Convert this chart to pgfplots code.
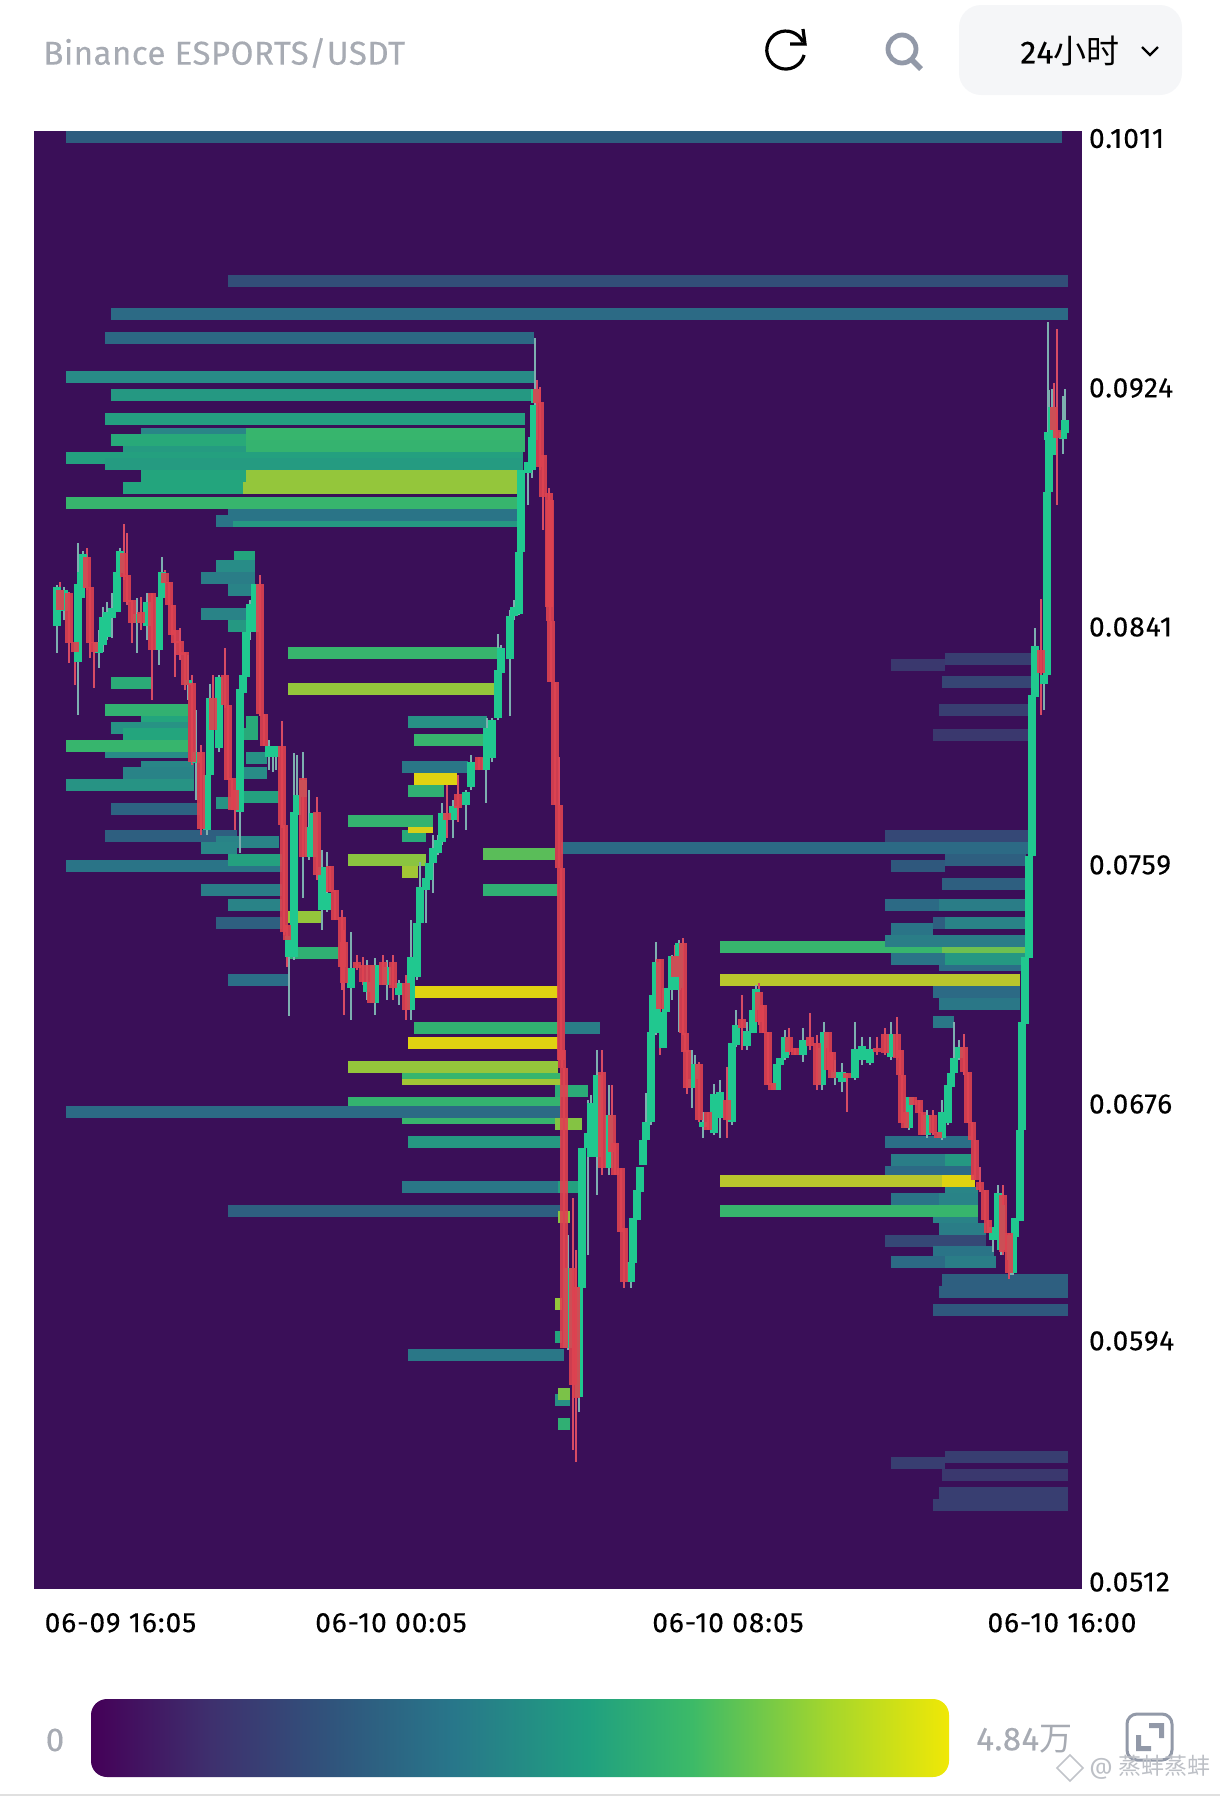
\documentclass[border=0pt]{standalone}
\usepackage{fontspec}
\setmainfont{Fira Sans}
\newfontfamily\ticksfont[LetterSpace=3.5,FakeBold=0.35]{Fira Sans}
\newfontfamily\headfont[LetterSpace=1.5,FakeBold=0.35]{Fira Sans}
\newfontfamily\cjk{Noto Sans CJK SC}
\usepackage{pgfplots}
\usepackage{pgfplotstable}
\pgfplotsset{compat=1.18}

\definecolor{bgpurple}{RGB}{58,15,88}
\definecolor{upgreen}{RGB}{32,200,143}
\definecolor{downred}{RGB}{222,66,80}
\definecolor{upwick}{RGB}{125,175,175}
\definecolor{downwick}{RGB}{215,75,100}
\definecolor{greytext}{RGB}{167,171,179}
\definecolor{icongrey}{RGB}{146,153,168}
\definecolor{btnfill}{RGB}{245,246,248}
\definecolor{cb0}{RGB}{69,0,88}
\definecolor{cb1}{RGB}{62,48,110}
\definecolor{cb2}{RGB}{48,84,124}
\definecolor{cb3}{RGB}{40,118,138}
\definecolor{cb4}{RGB}{32,160,128}
\definecolor{cb5}{RGB}{60,186,104}
\definecolor{cb6}{RGB}{165,214,44}
\definecolor{cb7}{RGB}{240,232,6}
\pgfdeclarehorizontalshading{volbar}{100bp}{color(0bp)=(cb0); color(25bp)=(cb0); color(32bp)=(cb1); color(39bp)=(cb2); color(46bp)=(cb3); color(54bp)=(cb4); color(60bp)=(cb5); color(68bp)=(cb6); color(75bp)=(cb7); color(100bp)=(cb7)}

% all positions below: x and y in chart pixels, v = volume in thousands
\pgfplotstableread{
x1 x2 yc v
66 1062 137 15.5
228 1068 281 13
111 1068 314 18.4
105 534 338 18
66 534 377 24
111 532 395 26.6
105 525 419 27.6
141 246 434 23.2
111 246 440 30
246 525 434 33
246 525 446 32.5
123 246 452 27
66 523 458 28
105 523 464 27
141 246 476 29
123 243 488 29
246 520 476 41
243 520 488 41
66 520 503 33
228 519 515 20.3
216 233 521 20.3
234 255 557 29
216 255 566 24.2
201 255 578 21.8
228 255 590 22.7
201 247 614 22.7
228 250 626 26.6
288 501 653 33
111 153 683 30.5
288 496 689 41
105 188 710 32
111 188 728 25.6
123 188 734 29
66 188 746 33
123 194 773 22.7
66 194 785 25.6
111 200 809 17
246 258 722 30
243 258 734 30
246 267 758 25.2
243 267 773 24.2
243 279 797 28
216 232 803 25.6
105 237 836 16
216 279 842 22.7
201 237 848 23.2
66 282 866 20.3
228 282 860 28
201 282 890 21.8
228 282 905 22.7
288 321 917 41
216 282 923 16
288 339 953 31.5
228 288 980 19.4
408 487 722 25.2
414 485 740 33
402 468 767 20.8
414 457 779 47
408 444 791 31.5
348 433 821 32.4
402 426 836 30
348 426 860 40.2
402 418 872 42
483 555 854 36.3
483 558 890 31.5
415 558 992 47
414 558 1028 32
565 600 1028 21.8
408 558 1043 47
348 558 1067 41
402 561 1079 42
555 588 1091 30.5
348 561 1103 32.4
66 561 1112 18.4
555 582 1124 39.7
408 561 1142 26.6
402 558 1187 20.8
558 579 1187 28
228 560 1211 16
558 570 1217 40
555 562 1304 41
555 562 1337 29
408 564 1355 20.8
555 570 1400 25.2
558 570 1394 39
558 570 1424 31.5
945 1032 659 10.6
891 945 665 9.7
942 1032 682 11.6
939 1029 710 10.6
933 1029 735 9.7
885 1029 836 12.1
561 1029 848 18.4
945 1026 860 16
891 945 866 14.5
942 1026 884 16
885 939 905 18.4
939 1026 905 21.8
933 945 923 16
891 933 929 20.3
945 1026 923 22.7
885 1026 941 21.8
720 885 947 33
891 945 959 20.3
945 1026 959 26.6
720 1020 980 43.6
933 1020 992 18.4
939 1020 1004 20.8
933 954 1022 20.8
885 971 1142 19.4
891 945 1160 21.8
945 971 1160 26.6
885 971 1172 18.4
720 942 1181 43.6
942 975 1181 47
891 939 1199 20.3
939 978 1199 22.7
720 978 1211 33
939 986 1229 21.8
885 986 1241 12.1
933 994 1252 20.3
891 945 1262 18.4
945 996 1262 21.8
942 1068 1280 16
939 1068 1292 16
933 1068 1310 14.5
945 1068 1457 10.6
891 945 1463 10.6
942 1068 1475 9.7
939 1068 1493 10.6
933 1068 1505 10.6
}\heatfull

% the half height rows
\pgfplotstableread{
x1 x2 yc v
233 519 524 26.6
141 188 719 29
105 188 755 24.2
141 194 764 23.2
408 433 830 46
402 561 1076 33
402 555 1121 33
885 1026 950 33
942 1026 950 37.8
939 1026 968 19.4
945 978 1190 23
933 978 1220 22.7
}\heathalf

% x, body top and bottom, wick top and bottom
\pgfplotstableread{
x bt bb wt wb
57 587 626 585 653
64 590 611 587 620
78 584 662 543 715
81 572 598 572 598
83 554 588 551 590
99 642 653 630 668
103 617 645 607 652
107 612 637 602 640
112 608 618 593 638
117 572 612 572 612
120 551 573 548 575
137 614 623 598 653
147 602 626 593 640
159 597 650 597 665
162 572 598 557 600
188 680 685 655 700
196 752 763 710 800
207 775 830 775 835
210 698 775 684 778
219 677 748 675 752
240 689 812 680 853
243 675 693 637 695
246 632 677 632 677
250 604 632 600 640
255 584 632 584 632
269 746 757 740 770
273 746 757 746 772
276 746 757 746 770
289 936 957 936 1016
294 812 957 753 960
297 795 815 755 817
303 780 797 752 898
309 827 857 790 860
313 813 857 813 857
322 867 910 850 930
327 893 910 852 912
351 968 988 932 1020
367 982 992 960 1000
375 965 1003 958 1015
387 967 985 960 1000
399 983 995 980 1005
411 957 1010 920 1020
417 923 977 923 980
420 887 923 862 925
426 878 890 878 923
429 863 880 863 880
433 848 863 835 893
438 840 853 835 855
442 813 842 803 845
453 806 820 800 838
466 792 805 790 830
471 762 787 755 790
486 758 770 745 803
487 728 758 718 760
492 720 758 718 762
498 670 718 634 720
501 648 673 645 675
510 616 659 610 716
514 607 616 600 620
519 552 614 552 615
521 470 552 470 555
528 462 473 462 505
532 437 470 437 478
534 405 440 405 442
535 389 403 338 405
568 1268 1348 1235 1350
579 1287 1397 1287 1412
582 1148 1288 1148 1290
588 1133 1148 1100 1255
591 1103 1157 1095 1157
597 1075 1157 1050 1195
609 1152 1168 1085 1175
609 1115 1152 1115 1152
631 1262 1282 1262 1288
633 1218 1263 1218 1263
637 1190 1220 1190 1220
640 1167 1192 1167 1192
643 1140 1165 1140 1165
646 1122 1140 1093 1142
651 1032 1122 1018 1125
653 995 1033 985 1035
656 962 1033 942 1035
663 1012 1048 1012 1048
666 988 1012 988 1012
672 956 990 955 1000
677 977 990 977 990
679 943 988 940 1032
692 1079 1088 1050 1108
695 1064 1079 1055 1085
703 1122 1127 1112 1138
714 1094 1133 1084 1135
720 1092 1118 1080 1138
732 1043 1122 1043 1125
736 1025 1045 1010 1047
747 1031 1046 1022 1050
753 1010 1033 1010 1033
756 989 1010 985 1010
777 1064 1090 1064 1090
780 1058 1065 1058 1065
785 1037 1058 1030 1060
803 1040 1055 1028 1062
822 1048 1085 1048 1090
824 1032 1048 1022 1050
835 1072 1078 1060 1085
842 1072 1082 1063 1092
855 1049 1078 1022 1080
862 1046 1060 1037 1065
870 1049 1063 1037 1065
891 1034 1057 1022 1060
909 1097 1128 1097 1130
927 1115 1135 1110 1138
942 1112 1138 1100 1140
948 1085 1123 1080 1125
951 1073 1087 1073 1087
954 1058 1073 1022 1075
959 1047 1058 1040 1060
993 1227 1240 1227 1252
998 1193 1227 1185 1230
1001 1205 1250 1205 1255
1011 1235 1260 1235 1275
1013 1237 1273 1237 1275
1015 1218 1237 1218 1237
1020 1130 1221 1130 1221
1022 1022 1130 1022 1130
1025 957 1024 957 1024
1029 856 958 856 958
1032 695 856 695 856
1035 646 697 628 700
1044 675 684 660 710
1047 492 675 492 675
1049 432 492 390 495
1048 432 440 322 440
1052 407 455 389 460
1063 432 439 396 454
1065 420 433 389 435
}\upcandles

\pgfplotstableread{
x bt bb wt wb
60 590 610 582 625
69 593 643 592 663
75 642 652 642 685
87 557 588 548 590
90 587 643 587 658
94 642 652 642 688
124 553 577 524 580
127 575 602 533 605
132 600 623 600 643
141 612 623 597 630
152 593 650 593 700
165 573 583 570 585
169 582 605 582 605
172 605 635 605 635
175 630 643 630 677
180 641 655 628 660
185 652 685 652 690
192 683 762 675 765
201 752 829 745 835
213 698 730 675 732
225 675 705 648 708
228 705 780 705 780
232 778 810 778 810
235 790 810 790 830
260 584 714 575 716
264 714 746 714 746
282 746 825 721 828
284 825 932 825 935
287 925 940 925 967
303 778 857 778 857
317 812 875 797 880
330 866 892 866 892
335 890 920 890 920
342 917 967 910 990
344 942 983 930 1015
357 962 968 955 970
363 965 982 957 985
371 965 1003 965 1003
383 962 985 955 985
393 962 988 955 1000
406 983 1010 975 1020
447 813 820 785 838
458 794 808 775 822
479 757 770 757 770
537 389 403 380 405
540 402 467 387 470
543 455 497 455 530
549 493 607 488 607
550 500 621 500 621
551 621 682 621 682
555 682 805 682 805
559 805 868 757 868
561 868 1060 868 1060
562 1050 1068 1050 1068
564 1068 1348 1068 1348
573 1268 1385 1198 1450
576 1287 1398 1250 1462
602 1072 1168 1050 1175
612 1115 1152 1085 1154
615 1143 1175 1143 1175
621 1168 1232 1168 1232
624 1228 1282 1228 1288
660 959 1009 959 1055
675 956 977 945 980
683 943 1033 938 1035
685 1033 1052 1033 1052
687 1050 1088 1050 1094
699 1064 1120 1062 1122
708 1112 1130 1112 1130
727 1100 1120 1067 1138
742 1019 1028 995 1050
759 992 1022 983 1025
763 1005 1033 1005 1033
768 1032 1085 1032 1085
772 1083 1090 1083 1090
789 1037 1052 1028 1055
795 1048 1055 1048 1055
810 1037 1046 1013 1050
817 1043 1085 1035 1090
828 1032 1070 1032 1070
832 1052 1078 1052 1078
847 1073 1078 1073 1112
877 1048 1052 1037 1055
885 1034 1053 1028 1055
897 1034 1058 1017 1060
900 1050 1075 1050 1075
902 1075 1123 1075 1123
905 1112 1128 1112 1128
913 1097 1105 1097 1105
919 1100 1113 1100 1113
922 1112 1135 1112 1135
933 1115 1133 1110 1135
938 1132 1138 1132 1138
964 1047 1072 1034 1075
968 1072 1123 1072 1123
972 1122 1140 1122 1140
975 1140 1180 1140 1180
980 1182 1190 1167 1192
985 1190 1220 1190 1220
988 1220 1233 1220 1233
1003 1195 1252 1185 1255
1009 1233 1273 1233 1279
1041 650 673 599 715
1054 407 430 383 454
1057 430 438 329 505
}\downcandles

\begin{document}
\begin{tikzpicture}[x=0.5pt,y=-0.5pt]
\path[use as bounding box] (0,0) rectangle (1220,1796);

\begin{axis}[
    at={(17pt,-794.5pt)}, anchor=south west,
    scale only axis, width=524pt, height=729pt,
    xmin=34, xmax=1082, ymin=131, ymax=1589, y dir=reverse,
    axis line style={draw=none},
    axis background/.style={fill=bgpurple},
    major tick length=0pt,
    xtick={120.5,391,728,1062},
    xticklabels={06-09 16:05,06-10 00:05,06-10 08:05,06-10 16:00},
    xticklabel style={font=\ticksfont\fontsize{14}{16}\selectfont, yshift=-8.5pt},
    ytick={138.5,388,627,865,1104,1341,1582},
    yticklabels={0.1011,0.0924,0.0841,0.0759,0.0676,0.0594,0.0512},
    yticklabel pos=right,
    yticklabel style={font=\ticksfont\fontsize{14}{16}\selectfont, anchor=west, xshift=0pt},
    colormap={vol}{rgb255(0pt)=(58,15,88); rgb255(20pt)=(58,56,110); rgb255(30pt)=(47,88,125); rgb255(40pt)=(43,110,135); rgb255(50pt)=(40,140,135); rgb255(60pt)=(35,165,125); rgb255(70pt)=(60,185,105); rgb255(85pt)=(150,198,58); rgb255(90pt)=(185,198,45); rgb255(100pt)=(240,215,5)},
    point meta min=0, point meta max=48.4,
]
\addplot[quiver={u=\thisrow{x2}-\thisrow{x1},v=0,colored=mapped color,every arrow/.append style={line width=6pt}},point meta=explicit]
    table[x=x1,y=yc,meta=v] {\heatfull};
\addplot[quiver={u=\thisrow{x2}-\thisrow{x1},v=0,colored=mapped color,every arrow/.append style={line width=3pt}},point meta=explicit]
    table[x=x1,y=yc,meta=v] {\heathalf};
% wicks
\addplot[upwick,line width=0.55pt,quiver={u=0,v=\thisrow{wb}-\thisrow{wt}}] table[x=x,y=wt] {\upcandles};
\addplot[downwick,line width=0.55pt,quiver={u=0,v=\thisrow{wb}-\thisrow{wt}}] table[x=x,y=wt] {\downcandles};
% bodies
\addplot[upgreen,line width=3.8pt,quiver={u=0,v=\thisrow{bb}-\thisrow{bt}}] table[x=x,y=bt] {\upcandles};
\addplot[downred,line width=3.8pt,opacity=0.9,quiver={u=0,v=\thisrow{bb}-\thisrow{bt}}] table[x=x,y=bt] {\downcandles};
\end{axis}

% header
\node[anchor=west,text=greytext,inner sep=0pt,font=\headfont\fontsize{16.5}{20}\selectfont] at (43,53) {Binance ESPORTS/USDT};
\draw[line width=1.6pt,black] (803,42) arc[start angle=25,end angle=345,x radius=19,y radius=-19];
\draw[line width=1.6pt,black] (803,29) -- (805,44) -- (790,44);
\draw[line width=2.4pt,icongrey] (902,49) circle[radius=14];
\draw[line width=2.8pt,icongrey] (912,60) -- (921,69);
\fill[btnfill,rounded corners=11pt] (959,5) rectangle (1182,95);
\node[anchor=west,inner sep=0pt,font=\ticksfont\fontsize{16}{20}\selectfont] at (1020,51) {24{\cjk\fontsize{16.5}{20}\selectfont 小时}};
\draw[line width=1.2pt] (1142,47) -- (1150,55) -- (1158,47);

% colour scale
\shade[shading=volbar,rounded corners=8pt] (91,1699) rectangle (949,1777);
\node[text=greytext,inner sep=0pt,font=\headfont\fontsize{16.5}{20}\selectfont] at (55,1740) {0};
\node[anchor=west,text=greytext,inner sep=0pt,font=\headfont\fontsize{16.5}{20}\selectfont] at (976,1739) {4.84{\cjk 万}};
\draw[line width=1.5pt,icongrey,rounded corners=5pt] (1127,1714) rectangle (1172,1760);
\fill[icongrey] (1149,1723) -- (1164,1723) -- (1164,1738) -- (1159,1738) -- (1159,1728) -- (1149,1728) -- cycle;
\fill[icongrey] (1136,1735) -- (1141,1735) -- (1141,1746) -- (1151,1746) -- (1151,1751) -- (1136,1751) -- cycle;

% watermark
\draw[line width=0.8pt,greytext!70] (1070,1755) -- (1083,1768) -- (1070,1781) -- (1057,1768) -- cycle;
\node[anchor=west,text=greytext!75,inner sep=0pt,font=\fontsize{11.5}{14}\selectfont] at (1089,1767) {@ {\cjk 蒸蚌蒸蚌}};
\draw[line width=1pt,black!12] (0,1795) -- (1220,1795);
\end{tikzpicture}
\end{document}
